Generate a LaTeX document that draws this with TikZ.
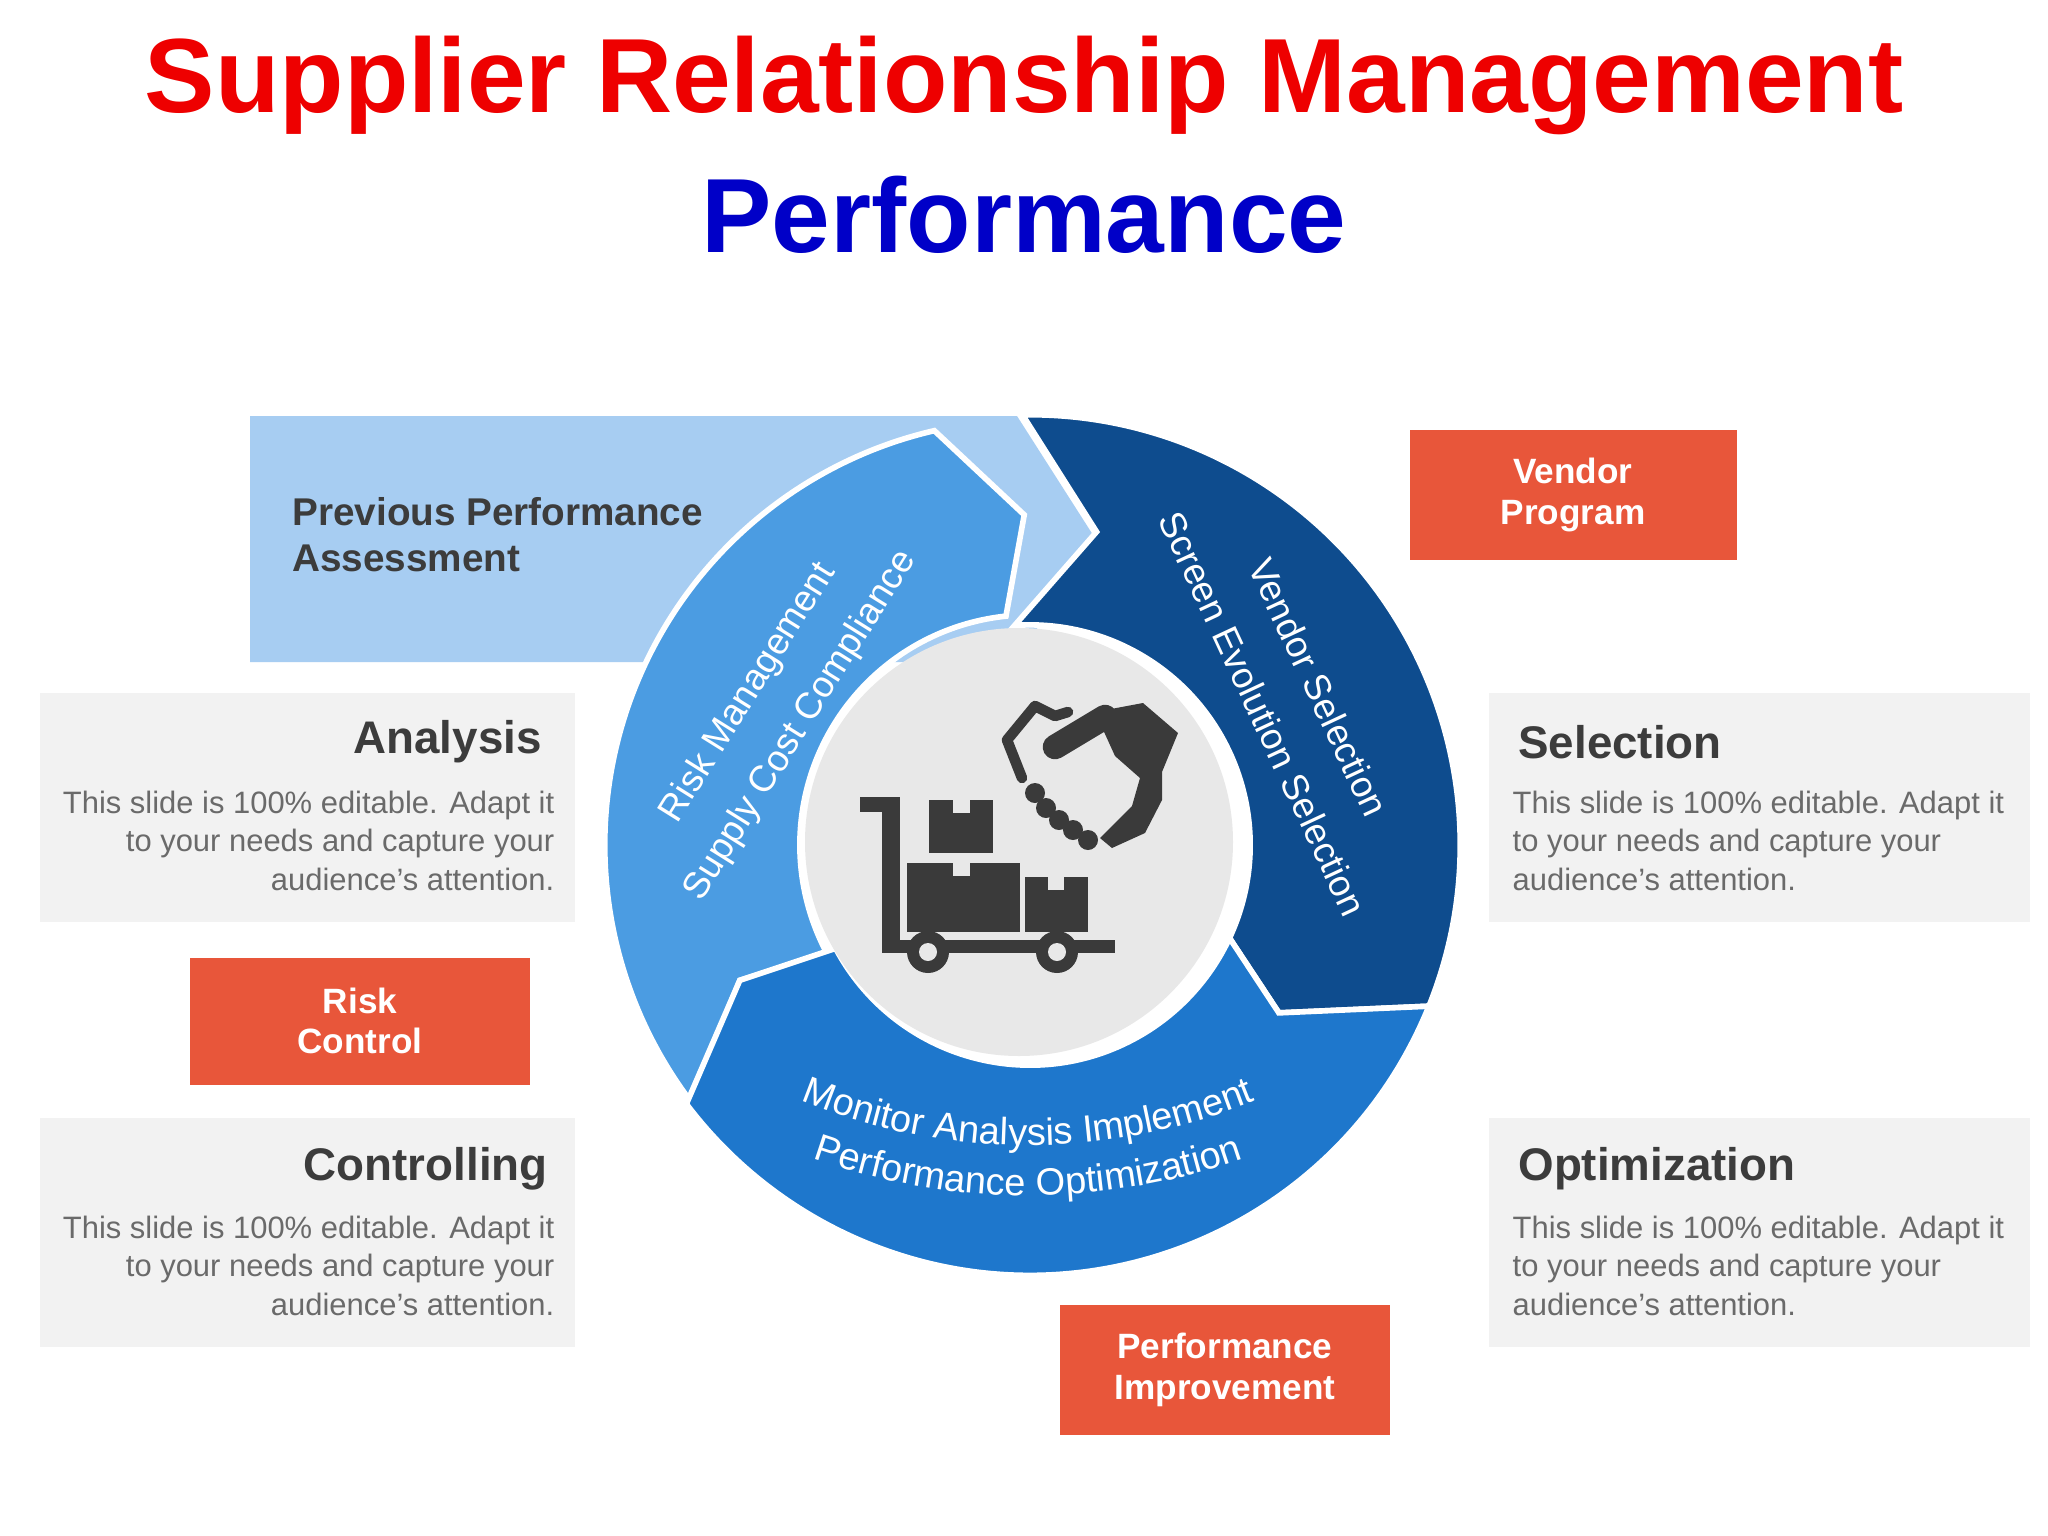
\documentclass[tikz,border=0pt]{standalone}
\usepackage{fontspec}
\setmainfont{Liberation Sans}
\usetikzlibrary{decorations.text}
\definecolor{dblue}{HTML}{0E4C8E}
\definecolor{mblue}{HTML}{1E77CC}
\definecolor{lblue}{HTML}{4B9CE2}
\definecolor{pblue}{HTML}{A7CDF2}
\definecolor{org}{HTML}{E8563A}
\definecolor{icon}{HTML}{3A3A3A}
\definecolor{ttl}{HTML}{EE0000}
\definecolor{tb}{HTML}{0000C8}
\definecolor{hd}{HTML}{3C3C3C}
\definecolor{bd}{HTML}{6A6A6A}
\tikzset{
 seg/.style={draw=white,line width=1.6pt,line join=miter},
 obox/.style={fill=org,draw=none},
 otext/.style={text=white,font=\bfseries\fontsize{10}{11.5}\selectfont,align=center},
 gbox/.style={fill=black!5,draw=none},
 head/.style={text=hd,font=\bfseries\fontsize{13}{15}\selectfont},
 body/.style={text=bd,font=\fontsize{8.8}{11}\selectfont,inner sep=0pt},
 ring/.style={text=white,font=\fontsize{10.5}{12.5}\selectfont,align=center}
}
\begin{document}
\begin{tikzpicture}[x=0.01cm,y=-0.01cm]
\useasboundingbox[fill=white] (0,0) rectangle (2048,1536);
% title
\node (t1) at (1024,85) {\textcolor{ttl}{\bfseries\fontsize{30}{33}\selectfont Supplier Relationship Management}};
\node (t2) at (1024,215) {\textcolor{tb}{\bfseries\fontsize{30}{33}\selectfont Performance}};
% light arrow
\fill[pblue] (250,416) -- (1017,416) -- (1093,535) -- (1017,662) -- (250,662) -- cycle;
\node[anchor=west,text=hd,font=\bfseries\fontsize{11}{13}\selectfont,align=left] (ppa) at (280,535) {Previous Performance\\Assessment};
\begin{scope}[shift={(1030,845)},x=1cm,y=1cm]
 \path[seg,fill=lblue] (217:4.25) arc[start angle=217,end angle=103,radius=4.25] -- (91:3.3) -- (96:2.3) arc[start angle=96,end angle=208,radius=2.3] -- (205:3.2) -- cycle;
 \path[seg,fill=dblue] (91:4.3) arc[start angle=91,end angle=-22,radius=4.3] -- (-34:3.0) -- (-25:2.2) arc[start angle=-25,end angle=94,radius=2.2] -- (78:3.2) -- cycle;
 \path[seg,fill=mblue] (-22:4.3) arc[start angle=-22,end angle=-143,radius=4.3] -- (-155:3.2) -- (-152:2.2) arc[start angle=-152,end angle=-25,radius=2.2] -- (-34:3.0) -- cycle;
 \node[ring,rotate=-65] (dt) at (29:2.98) {Vendor Selection\\[5pt]Screen Evolution Selection};
 \node[ring,rotate=58] (lt) at (152:2.89) {Risk Management\\[5pt]Supply Cost Compliance};
\end{scope}
\begin{scope}[shift={(1028,545)},x=1cm,y=1cm]
 \path[decorate,decoration={text along path,text align=center,text color=white,text={|\fontsize{10.8}{12}\selectfont|Monitor Analysis Implement}}] (230:6.0) arc[start angle=230,end angle=310,radius=6.0];
 \path[decorate,decoration={text along path,text align=center,text color=white,text={|\fontsize{10.8}{12}\selectfont|Performance Optimization}}] (235:6.5) arc[start angle=235,end angle=305,radius=6.5];
\end{scope}
\fill[black!9] (1019,842) circle[radius=214];
% icon truck
\fill[icon] (860,797) rectangle (900,812);
\fill[icon] (882,797) rectangle (900,953);
\fill[icon] (882,940) rectangle (1115,953);
\fill[icon] (929,800) rectangle (993,853);
\fill[icon] (907,863) rectangle (1020,932);
\fill[icon] (1025,877) rectangle (1088,932);
\fill[black!9] (953,800) rectangle (970,813);
\fill[black!9] (953,863) rectangle (970,876);
\fill[black!9] (1048,877) rectangle (1064,890);
\foreach \wx in {928,1057}{\fill[icon] (\wx,952) circle[radius=21]; \fill[black!9] (\wx,952) circle[radius=9];}
% handshake
\draw[icon,line width=3pt,line join=round,line cap=round] (1022,778) -- (1007,740) -- (1035,706) -- (1055,716) -- (1068,712);
\draw[icon,line width=7pt,line cap=round] (1055,747) -- (1105,717);
\fill[icon] (1095,712) -- (1143,703) -- (1178,733) -- (1162,772) -- (1162,800) -- (1145,833) -- (1112,848) -- (1100,838) -- (1132,806) -- (1140,778) -- (1115,756) -- cycle;
\foreach \p in {(1035,793),(1046,808),(1059,820),(1073,830),(1088,840)}{\fill[icon] \p circle[radius=10];}
% orange boxes
\fill[obox] (1410,430) rectangle (1737,560);
\node[otext] (vp) at (1573,495) {Vendor\\Program};
\fill[obox] (190,958) rectangle (530,1085);
\node[otext] (rc) at (360,1021) {Risk\\Control};
\fill[obox] (1060,1305) rectangle (1390,1435);
\node[otext] (pi) at (1225,1370) {Performance\\Improvement};
% gray text boxes
\fill[gbox] (40,693) rectangle (575,922);
\node[head,anchor=east] (an) at (554,742) {Analysis};
\node[body,anchor=north east,align=right] (ab) at (555,790) {This slide is 100\% editable. Adapt it\\to your needs and capture your\\audience's attention.};
\fill[gbox] (40,1118) rectangle (575,1347);
\node[head,anchor=east] (co) at (560,1169) {Controlling};
\node[body,anchor=north east,align=right] (cb) at (555,1215) {This slide is 100\% editable. Adapt it\\to your needs and capture your\\audience's attention.};
\fill[gbox] (1489,693) rectangle (2030,922);
\node[head,anchor=west] (se) at (1506,742) {Selection};
\node[body,anchor=north west,align=left] (sb) at (1512,790) {This slide is 100\% editable. Adapt it\\to your needs and capture your\\audience's attention.};
\fill[gbox] (1489,1118) rectangle (2030,1347);
\node[head,anchor=west] (op) at (1506,1169) {Optimization};
\node[body,anchor=north west,align=left] (ob) at (1512,1215) {This slide is 100\% editable. Adapt it\\to your needs and capture your\\audience's attention.};
\end{tikzpicture}
\end{document}
